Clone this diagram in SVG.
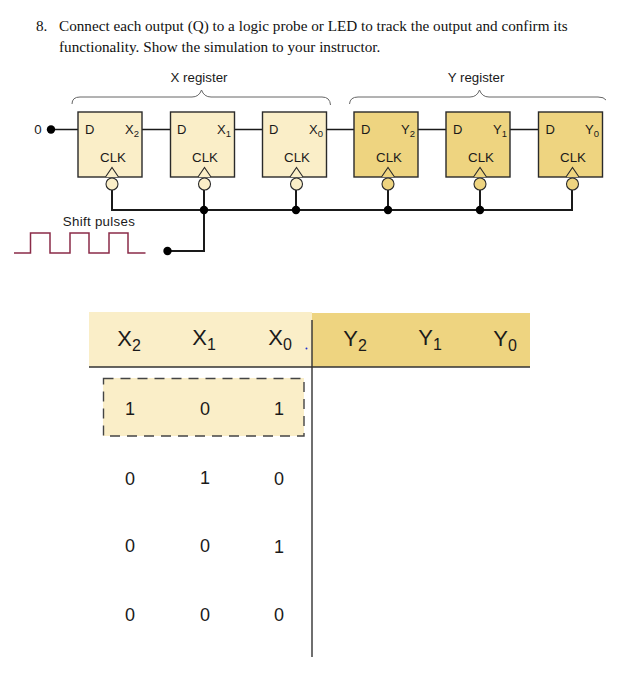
<svg xmlns="http://www.w3.org/2000/svg" width="636" height="692" viewBox="0 0 636 692">
<style>
text{font-family:"Liberation Sans",Arial,sans-serif;fill:#1a1a1a}
text.q{font-family:"Liberation Serif","Times New Roman",serif;font-size:15.2px;fill:#111}
.s{font-size:13px}
.b{font-size:13.300px;text-anchor:middle}
.w{fill:none;stroke:#1a1a1a;stroke-width:1.600}
.bus{fill:none;stroke:#1a1a1a;stroke-width:2}
.brace{fill:none;stroke:#666;stroke-width:1}
.ff{stroke:#2a2a2a;stroke-width:1.400}
.x{fill:#faeec8}
.y{fill:#eed480}
.ck{stroke:#2a2a2a;stroke-width:1.100}
.h{font-size:22px;text-anchor:middle}
.n{font-size:18px;text-anchor:middle}
</style>
<defs>
<g id="flop">
<rect class="ff" x="0" y="0" width="64" height="65"/>
<path class="ck" d="M27.500 65L34 55.500L40.500 65"/>
<circle class="ck" cx="34" cy="72" r="6"/>
</g>
</defs>
<text class="q" x="36" y="31">8.</text>
<text class="q" x="59" y="31">Connect each output (Q) to a logic probe or LED to track the output and confirm its</text>
<text class="q" x="59" y="52">functionality. Show the simulation to your instructor.</text>
<g id="connectors">
<path class="w" d="M51 129.500H78M142 129.500H170.500M234.500 129.500H262.500M326.500 129.500H354M418 129.500H446M510 129.500H538.500"/>
<path class="bus" d="M112 190V210H572V190M204 190V251H167.500M296 190V210M388 190V210M480 190V210"/>
<g fill="#000"><circle cx="51" cy="129.500" r="4.200"/><circle cx="204" cy="210" r="4.200"/><circle cx="296" cy="210" r="4.200"/><circle cx="388" cy="210" r="4.200"/><circle cx="480" cy="210" r="4.200"/><circle cx="167.500" cy="251" r="4.200"/></g>
</g>
<g id="x-brace"><path class="brace" d="M72 104Q72 97 80 97H192Q199 97 201.500 90Q204 97 211 97H322Q330 97 330.500 105"/><text class="b" x="199" y="82">X register</text></g>
<g id="y-brace"><path class="brace" d="M349.500 104Q350 97 358 97H470Q477 97 479.500 90Q482 97 489 97H598Q604 97 606 100"/><text class="b" x="476" y="82">Y register</text></g>
<text id="input-0" x="38" y="134" class="b">0</text>
<g id="ff-x2"><use href="#flop" x="78" y="112" class="x"/><text class="s" x="85" y="134">D</text><text class="s" x="125" y="134">X<tspan font-size="9.500" dy="3">2</tspan></text><text class="b" x="113" y="162">CLK</text></g>
<g id="ff-x1"><use href="#flop" x="170.500" y="112" class="x"/><text class="s" x="177" y="134">D</text><text class="s" x="217" y="134">X<tspan font-size="9.500" dy="3">1</tspan></text><text class="b" x="205" y="162">CLK</text></g>
<g id="ff-x0"><use href="#flop" x="262.500" y="112" class="x"/><text class="s" x="269" y="134">D</text><text class="s" x="309" y="134">X<tspan font-size="9.500" dy="3">0</tspan></text><text class="b" x="297" y="162">CLK</text></g>
<g id="ff-y2"><use href="#flop" x="354" y="112" class="y"/><text class="s" x="361" y="134">D</text><text class="s" x="401" y="134">Y<tspan font-size="9.500" dy="3">2</tspan></text><text class="b" x="389" y="162">CLK</text></g>
<g id="ff-y1"><use href="#flop" x="446" y="112" class="y"/><text class="s" x="453" y="134">D</text><text class="s" x="493" y="134">Y<tspan font-size="9.500" dy="3">1</tspan></text><text class="b" x="481" y="162">CLK</text></g>
<g id="ff-y0"><use href="#flop" x="538.500" y="112" class="y"/><text class="s" x="545.500" y="134">D</text><text class="s" x="585" y="134">Y<tspan font-size="9.500" dy="3">0</tspan></text><text class="b" x="573" y="162">CLK</text></g>
<text id="shift-label" class="b" x="99" y="226" letter-spacing=".3">Shift pulses</text>
<path id="pulses" fill="none" stroke="#8a2b48" stroke-width="1.500" d="M14 253H30.500V233H50V253H70V233H89V253H109V233H128V253H145.500"/>
<g id="table">
<rect x="89" y="312" width="223" height="55" class="x"/>
<rect x="312" y="313" width="218" height="54" class="y"/>
<rect x="103" y="378" width="201" height="58" class="x"/>
<path d="M103.500 378.500H304V436H103.500Z" fill="none" stroke="#444" stroke-width="1.400" stroke-dasharray="10 7"/>
<path d="M89 367H530M312 320V657" fill="none" stroke="#333" stroke-width="1.400"/>
<circle cx="306.500" cy="348.500" r="1" fill="#2030d0"/>
<text class="h" x="129" y="346">X<tspan font-size="16" dy="5">2</tspan></text>
<text class="h" x="204" y="345">X<tspan font-size="16" dy="5">1</tspan></text>
<text class="h" x="280" y="345">X<tspan font-size="16" dy="5">0</tspan></text>
<text class="h" x="355" y="346">Y<tspan font-size="16" dy="5">2</tspan></text>
<text class="h" x="430" y="345">Y<tspan font-size="16" dy="5">1</tspan></text>
<text class="h" x="505" y="346">Y<tspan font-size="16" dy="5">0</tspan></text>
<text class="n" x="130" y="415">1</text><text class="n" x="205" y="415">0</text><text class="n" x="279" y="415">1</text>
<text class="n" x="130" y="485">0</text><text class="n" x="205" y="484">1</text><text class="n" x="279" y="485">0</text>
<text class="n" x="130" y="552">0</text><text class="n" x="205" y="552">0</text><text class="n" x="279" y="553">1</text>
<text class="n" x="130" y="621">0</text><text class="n" x="205" y="621">0</text><text class="n" x="279" y="621">0</text>
</g>
</svg>
